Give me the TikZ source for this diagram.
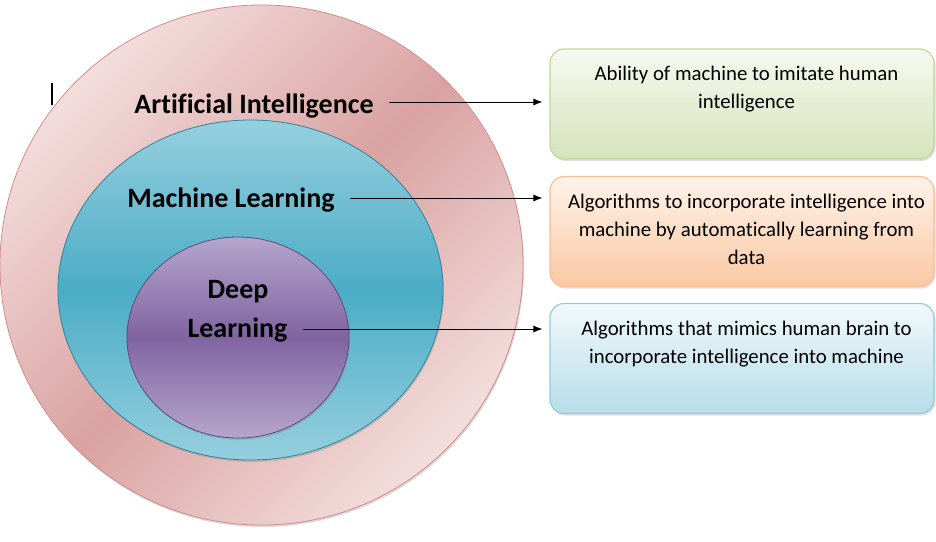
\documentclass[tikz,border=0pt]{standalone}
\usepackage{fontspec}
\setmainfont[Ligatures={NoCommon}]{Carlito}
\usetikzlibrary{shapes.geometric, arrows.meta, shadows}

\definecolor{ailight}{HTML}{F3DEDD}
\definecolor{aidark}{HTML}{D9A2A1}
\definecolor{aiedge}{HTML}{D28C8B}
\definecolor{mllight}{HTML}{95CFDE}
\definecolor{mldark}{HTML}{4BACC6}
\definecolor{mledge}{HTML}{2F8299}
\definecolor{dllight}{HTML}{B5A5CB}
\definecolor{dldark}{HTML}{8064A2}
\definecolor{dledge}{HTML}{5F497A}
\definecolor{grtop}{HTML}{F6F9EF}
\definecolor{grbot}{HTML}{D6E3BC}
\definecolor{gredge}{HTML}{C3D69B}
\definecolor{ortop}{HTML}{FEF3EA}
\definecolor{orbot}{HTML}{FAC8A2}
\definecolor{oredge}{HTML}{F8BE94}
\definecolor{bltop}{HTML}{F1F9FB}
\definecolor{blbot}{HTML}{B7DDE8}
\definecolor{bledge}{HTML}{93CDDD}

\newcommand{\infotext}[1]{\hspace*{9pt}\parbox[c][75pt][t]{370pt}{\centering #1}}

\begin{document}
\begin{tikzpicture}[x=1pt, y=-1pt,
    ring/.style={ellipse, inner sep=0pt, line width=0.8pt,
        drop shadow={opacity=0.3, shadow xshift=1pt, shadow yshift=-2pt}},
    lbl/.style={font=\bfseries\fontsize{28}{32}\selectfont, inner sep=0pt, anchor=base},
    infobox/.style={rounded corners=14pt, line width=1.2pt, inner sep=0pt,
        minimum width=384pt, minimum height=110pt, font=\fontsize{20.8}{28}\selectfont,
        drop shadow={opacity=0.25, shadow xshift=1.5pt, shadow yshift=-2pt}},
    arr/.style={-{Latex[length=9pt,width=7pt]}, line width=0.8pt, shorten <=15pt, shorten >=7pt}]

\useasboundingbox (0,0) rectangle (936,541);

\node[ring, draw=aiedge, top color=ailight, bottom color=ailight, middle color=aidark, shading angle=45,
    minimum width=523pt, minimum height=520pt] (ai) at (261.5,265) {};
\node[ring, draw=mledge, top color=mllight, bottom color=mllight, middle color=mldark,
    minimum width=385pt, minimum height=340pt] (ml) at (250.5,290) {};
\node[ring, draw=dledge, top color=dllight, bottom color=dllight, middle color=dldark,
    minimum width=222pt, minimum height=201pt] (dl) at (238,337.5) {};

\node[lbl] (ailbl) at (254,113) {Artificial Intelligence};
\node[lbl] (mllbl) at (231,207) {Machine Learning};
\node[lbl] (dllbl) at (238,298) {Deep};
\node[lbl] (dllbl2) at (237.5,337) {Learning};

\node[infobox, draw=gredge, top color=grtop, bottom color=grbot] (aibox) at (742,104)
    {\infotext{Ability of machine to imitate human\\ intelligence}};
\node[infobox, draw=oredge, top color=ortop, bottom color=orbot] (mlbox) at (742,231.5)
    {\infotext{Algorithms to incorporate intelligence into\\ machine by automatically learning from\\ data}};
\node[infobox, draw=bledge, top color=bltop, bottom color=blbot] (dlbox) at (742,358.5)
    {\infotext{Algorithms that mimics human brain to\\ incorporate intelligence into machine}};

\draw[arr] ([yshift=11pt]ailbl.base east) -- ([yshift=11pt]ailbl.base east -| aibox.west);
\draw[arr] ([yshift=9pt]mllbl.base east) -- ([yshift=9pt]mllbl.base east -| mlbox.west);
\draw[arr] ([yshift=8pt]dllbl2.base east) -- ([yshift=8pt]dllbl2.base east -| dlbox.west);

\coordinate (tick) at (52,83);
\draw[line width=1.5pt] (tick) -- ++(0,22);
\end{tikzpicture}
\end{document}
